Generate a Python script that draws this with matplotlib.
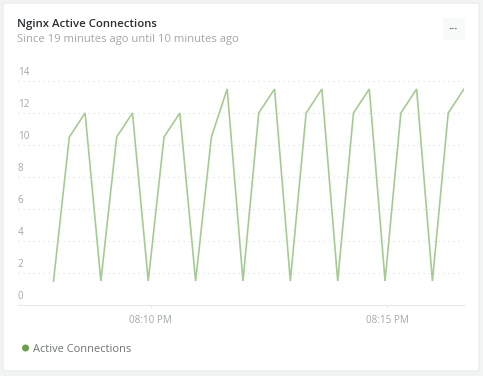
import numpy as np
import pandas as pd
import matplotlib
matplotlib.use("Agg")
import matplotlib.pyplot as plt
from matplotlib.patches import FancyBboxPatch, Ellipse

plt.rcParams['font.family'] = ['Open Sans', 'DejaVu Sans']

# Data (one sample every 20 s)
connections = [1.5, 10.5, 12, 1.5, 10.5, 12, 1.5, 10.5, 12, 1.5, 10.5, 13.5,
               1.5, 12, 13.5, 1.5, 12, 13.5, 1.5, 12, 13.5, 1.5, 12, 13.5,
               1.5, 12, 13.5]
start_time = "2024-01-01 20:07:57"
times = pd.date_range(start_time, periods=len(connections), freq="20s")
y_ticks = [0, 2, 4, 6, 8, 10, 12, 14]
x_ticks = pd.to_datetime(["2024-01-01 20:10:00", "2024-01-01 20:15:00"])
x_labels = ["08:10 PM", "08:15 PM"]
title = "Nginx Active Connections"
subtitle = "Since 19 minutes ago until 10 minutes ago"
series_name = "Active Connections"

W, H = 483, 376
fig = plt.figure(figsize=(W/100, H/100), dpi=100)
fig.patch.set_facecolor("#f2f4f4")

# white card
card = FancyBboxPatch((3/W, 5/H), 476/W, 368/H, boxstyle="round,pad=0,rounding_size=0.006",
                      transform=fig.transFigure, facecolor="white", edgecolor="#e9ebeb",
                      lw=0.8, zorder=-5)
fig.patches.append(card)

# menu button
btn = FancyBboxPatch((443/W, (H-40)/H), 22/W, 22/H, boxstyle="round,pad=0,rounding_size=0.008",
                     transform=fig.transFigure, facecolor="#f8f9f9", edgecolor="none", zorder=-4)
fig.patches.append(btn)
fig.text(453.5/W, (H-29)/H, "\u00b7\u00b7\u00b7", ha="center", va="center", fontsize=8,
         color="#6f7477", fontweight="bold")

fig.text(17/W, (H-25)/H, title, ha="left", va="center", fontsize=8.2, fontweight=600, color="#2a2f33")
fig.text(17/W, (H-39.5)/H, subtitle, ha="left", va="center", fontsize=8.1, color="#a2a8ab")

ax = fig.add_axes([18/W, (H-305)/H, 446/W, 240/H])
ax.set_zorder(2)
ax.plot(times, connections, color="#a6cb92", lw=1.2, solid_joinstyle="miter")

ax.set_ylim(0, 15)
ax.set_xlim(pd.Timestamp("2024-01-01 20:07:12"), times[-1])

for v in y_ticks:
    if v > 0:
        ax.axhline(v, color="#dfe3e5", lw=0.9, linestyle=(0, (1, 3)), zorder=0)
    ax.annotate(str(v), xy=(0, v), xycoords=ax.get_yaxis_transform(),
                xytext=(0, 6.3), textcoords="offset points", ha="left", va="center",
                fontsize=7.1, color="#a2a8ab")

ax.set_yticks([])
ax.set_xticks(x_ticks)
ax.set_xticklabels(x_labels)
ax.tick_params(axis="x", length=2, width=0.6, color="#dfe3e5", pad=5, labelsize=7.1,
               labelcolor="#a2a8ab")
for s in ["top", "right", "left"]:
    ax.spines[s].set_visible(False)
ax.spines["bottom"].set_color("#e6e9ea")
ax.spines["bottom"].set_linewidth(0.9)
ax.patch.set_alpha(0)

# legend
fig.patches.append(Ellipse((25.5/W, (H-348)/H), 7/W, 7/H, transform=fig.transFigure,
                           facecolor="#6d9e4d", edgecolor="none"))
fig.text(33/W, (H-349)/H, series_name, ha="left", va="center", fontsize=7.9, color="#6e7376")

fig.savefig("out.png", dpi=100, facecolor=fig.get_facecolor())
